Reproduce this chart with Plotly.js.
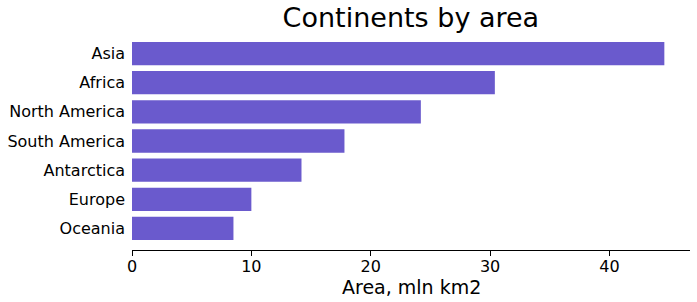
<!DOCTYPE html>
<html>
<head>
<meta charset="utf-8">
<script src="https://cdn.plot.ly/plotly-3.0.1.min.js"></script>
<style>html,body{margin:0;padding:0;background:#fff;}#chart{width:697px;height:302px;}</style>
</head>
<body>
<div id="chart"></div>
<script>
const continents = ["Asia", "Africa", "North America", "South America", "Antarctica", "Europe", "Oceania"];
const areas = [44.6, 30.4, 24.2, 17.8, 14.2, 10.0, 8.5];
const xTicks = [0, 10, 20, 30, 40];
const xTitle = 'Area, mln km2';

const trace = {
  type: 'bar',
  orientation: 'h',
  y: continents,
  x: areas,
  width: 0.8,
  marker: {color: '#6A5ACD', line: {width: 0}},
  hoverinfo: 'x+y'
};

const layout = {
  width: 697,
  height: 302,
  margin: {l: 132, r: 7, t: 32, b: 52, pad: 0},
  paper_bgcolor: '#ffffff',
  plot_bgcolor: '#ffffff',
  font: {family: 'DejaVu Sans, sans-serif', color: '#000000', size: 16},
  title: {
    text: 'Continents by area',
    font: {size: 27, color: '#000000'},
    x: 0.5895, xanchor: 'center',
    y: 1 - 18 / 302, yanchor: 'middle', yref: 'container'
  },
  showlegend: false,
  bargap: 0.2,
  xaxis: {
    range: [0, 46.75],
    tickvals: xTicks,
    ticktext: xTicks.map(String),
    ticks: 'outside',
    ticklen: 5,
    tickwidth: 1,
    tickcolor: '#000000',
    ticklabelstandoff: -3,
    showgrid: false,
    zeroline: false,
    showline: true,
    linecolor: '#000000',
    linewidth: 1,
    tickfont: {size: 16, color: '#000000'},
    fixedrange: true
  },
  yaxis: {
    categoryorder: 'array',
    categoryarray: continents.slice().reverse(),
    range: [-0.74, 6.74],
    showgrid: false,
    zeroline: false,
    showline: false,
    ticks: '',
    ticklabelstandoff: 6,
    tickfont: {size: 16, color: '#000000'},
    fixedrange: true
  },
  annotations: [{
    text: xTitle,
    xref: 'paper', yref: 'paper',
    x: 0.5, y: 0,
    xanchor: 'center', yanchor: 'middle',
    yshift: -37,
    showarrow: false,
    font: {size: 19, color: '#000000'}
  }]
};

Plotly.newPlot('chart', [trace], layout, {displayModeBar: false, staticPlot: true});
</script>
</body>
</html>
